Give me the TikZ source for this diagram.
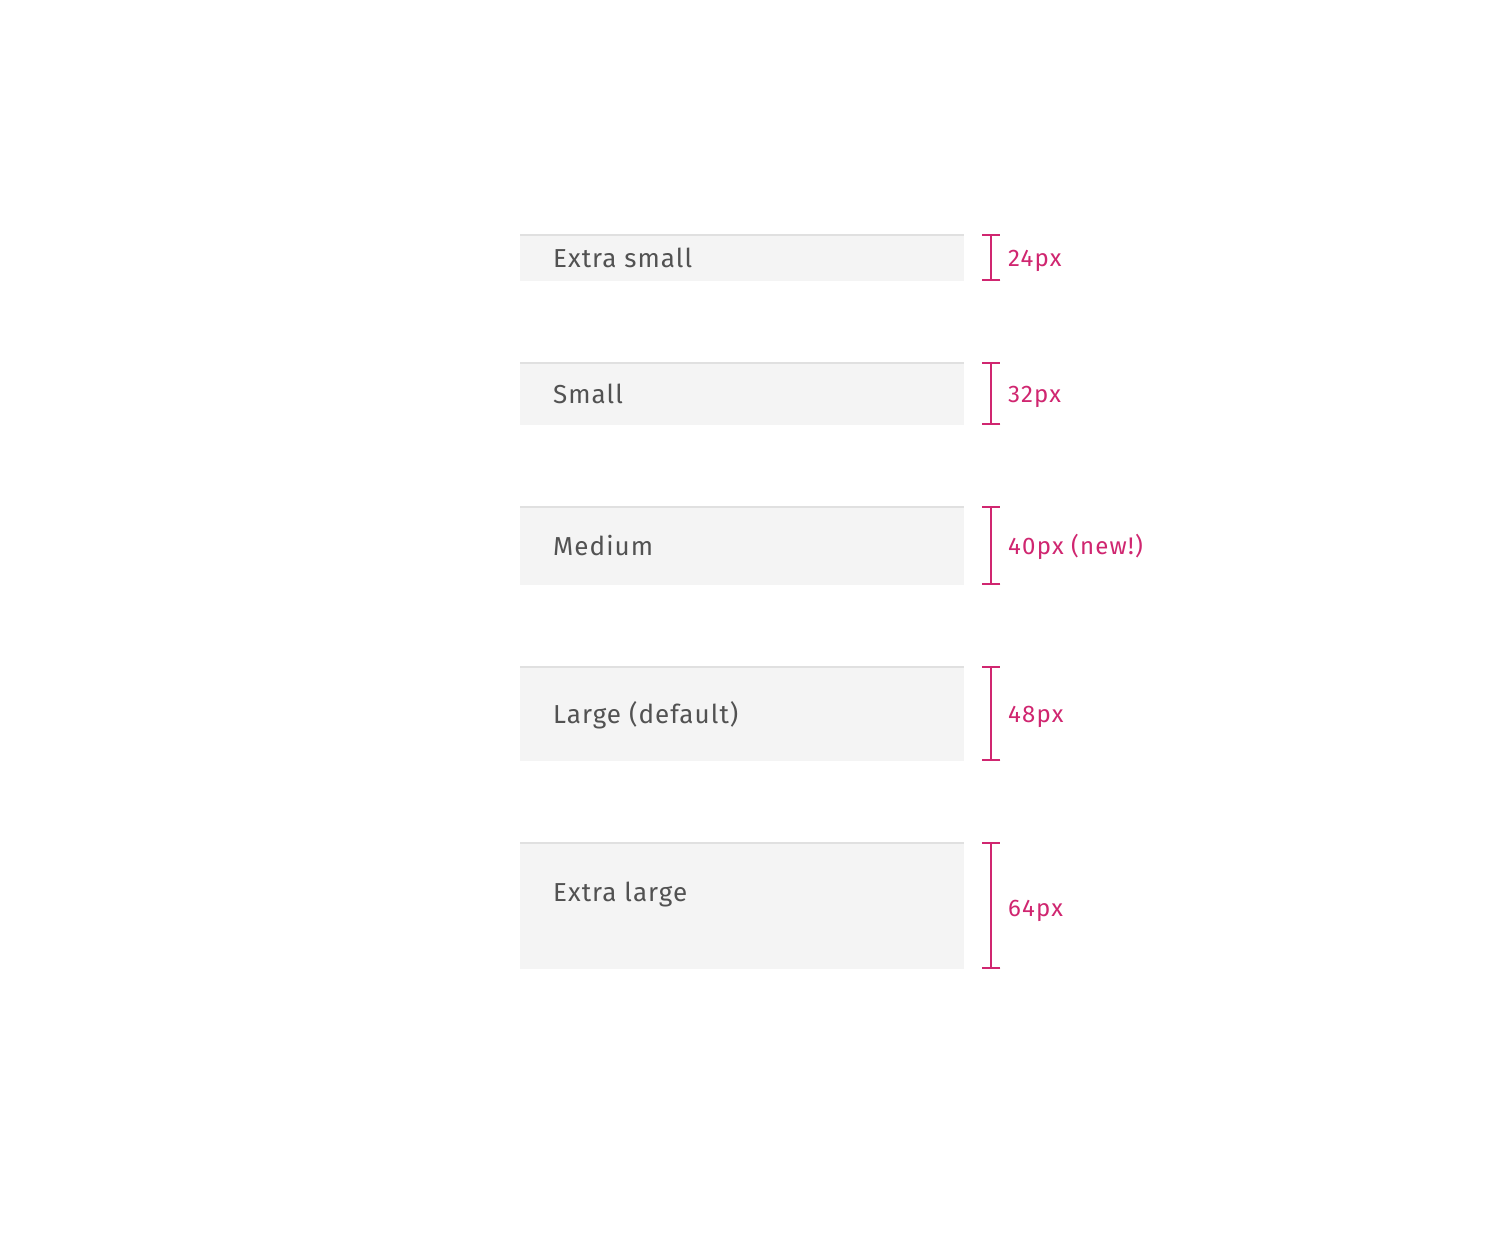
\documentclass[tikz,border=0pt]{standalone}
\usepackage{fontspec}
\setmainfont{Fira Sans}
\newfontfamily\fieldfont[LetterSpace=4]{Fira Sans}
\newfontfamily\dimfont[LetterSpace=5]{Fira Sans}
\usetikzlibrary{arrows.meta}

\definecolor{fieldgray}{HTML}{F4F4F4}
\definecolor{fieldline}{HTML}{E0E0E0}
\definecolor{labelgray}{HTML}{525252}
\definecolor{dimpink}{HTML}{D02670}

\tikzset{
	field/.style={fill=fieldgray, minimum width=444pt, anchor=north west, inner sep=0pt},
	topline/.style={draw=fieldline, line width=2pt},
	fieldtext/.style={text=labelgray, font=\fieldfont\fontsize{26}{30}\selectfont, anchor=base west, inner sep=0pt},
	dimline/.style={draw=dimpink, line width=2pt, {Bar[width=18pt]}-{Bar[width=18pt]}},
	dimtext/.style={text=dimpink, font=\dimfont\fontsize{24}{28}\selectfont, anchor=base west, inner sep=0pt},
}

\begin{document}
\begin{tikzpicture}[x=1pt, y=-1pt]
		\useasboundingbox[fill=white] (0,0) rectangle (1512,1232);

		% fields
		\node[field, minimum height=47pt]  (xs) at (520,234) {};
		\node[field, minimum height=63pt]  (sm) at (520,362) {};
		\node[field, minimum height=79pt]  (md) at (520,506) {};
		\node[field, minimum height=95pt]  (lg) at (520,666) {};
		\node[field, minimum height=127pt] (xl) at (520,842) {};

		\draw[topline] ([yshift=-1pt]xs.north west) -- ([yshift=-1pt]xs.north east);
		\draw[topline] ([yshift=-1pt]sm.north west) -- ([yshift=-1pt]sm.north east);
		\draw[topline] ([yshift=-1pt]md.north west) -- ([yshift=-1pt]md.north east);
		\draw[topline] ([yshift=-1pt]lg.north west) -- ([yshift=-1pt]lg.north east);
		\draw[topline] ([yshift=-1pt]xl.north west) -- ([yshift=-1pt]xl.north east);

		\node[fieldtext] (xst) at (553,267) {Extra small};
		\node[fieldtext] (smt) at (553,403) {Small};
		\node[fieldtext] (mdt) at (553,555) {Medium};
		\node[fieldtext] (lgt) at (553,723) {Large (default)};
		\node[fieldtext] (xlt) at (553,901) {Extra large};

		% dimensions
		\coordinate (xsa) at ([xshift=27pt]xs.north east);
		\coordinate (xsb) at ([xshift=27pt]xs.south east);
		\coordinate (sma) at ([xshift=27pt]sm.north east);
		\coordinate (smb) at ([xshift=27pt]sm.south east);
		\coordinate (mda) at ([xshift=27pt]md.north east);
		\coordinate (mdb) at ([xshift=27pt]md.south east);
		\coordinate (lga) at ([xshift=27pt]lg.north east);
		\coordinate (lgb) at ([xshift=27pt]lg.south east);
		\coordinate (xla) at ([xshift=27pt]xl.north east);
		\coordinate (xlb) at ([xshift=27pt]xl.south east);

		\draw[dimline] (xsa) -- (xsb);
		\draw[dimline] (sma) -- (smb);
		\draw[dimline] (mda) -- (mdb);
		\draw[dimline] (lga) -- (lgb);
		\draw[dimline] (xla) -- (xlb);

		\node[dimtext] (xsd) at (1008,266) {24px};
		\node[dimtext] (smd) at (1008,402) {32px};
		\node[dimtext] (mdd) at (1008,554) {40px (new!)};
		\node[dimtext] (lgd) at (1008,722) {48px};
		\node[dimtext] (xld) at (1008,916) {64px};

	\end{tikzpicture}
\end{document}
